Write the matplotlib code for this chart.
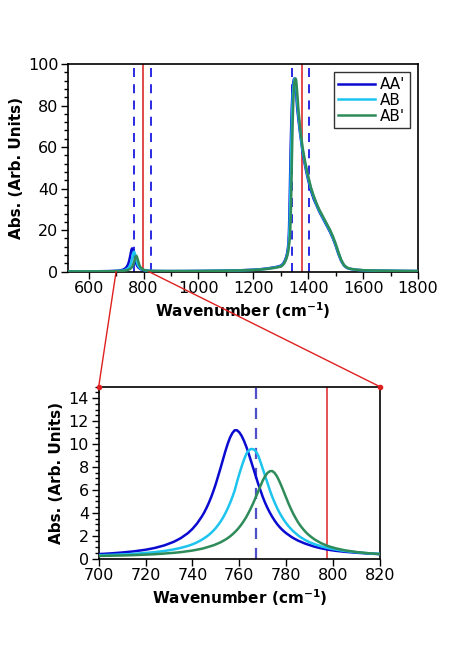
import matplotlib
matplotlib.use("Agg")
import matplotlib.pyplot as plt
from matplotlib.patches import ConnectionPatch
from matplotlib.ticker import MultipleLocator

# ---- data ----
wavenumber = ([525, 550, 575, 600, 625, 650, 675,
               700, 705, 710, 715, 720, 724, 728, 732, 735, 738, 740, 742, 744]
              + list(range(745, 791))
              + [792, 795, 798, 801, 805, 810, 815, 820,
                 830, 840, 860, 880, 900, 950, 1000, 1050, 1100, 1150, 1200, 1225, 1250, 1270, 1280, 1290,
                 1300, 1305, 1310, 1315, 1320, 1323, 1326, 1328, 1330, 1332, 1334, 1336, 1338, 1340,
                 1342, 1344, 1346, 1348, 1350, 1352, 1354, 1356, 1358, 1360, 1362, 1365, 1370, 1375,
                 1380, 1390, 1400, 1410, 1420, 1430, 1440, 1450, 1460, 1470, 1480, 1490, 1500, 1510,
                 1520, 1530, 1540, 1550, 1575, 1600, 1650, 1700, 1750, 1800])

abs_AA = [0.12, 0.13, 0.15, 0.17, 0.20, 0.24, 0.30,
          0.40, 0.46, 0.54, 0.64, 0.78, 0.94, 1.16, 1.47, 1.79, 2.22, 2.60, 3.08, 3.68,
          4.03, 4.43, 4.88, 5.38, 5.94, 6.55, 7.22, 7.92, 8.64, 9.35,
          10.0, 10.55, 10.95, 11.2, 11.2, 11.02, 10.7, 10.27, 9.75, 9.15,
          8.5, 7.85, 7.2, 6.55, 5.95, 5.38, 4.87, 4.42, 4.02, 3.66,
          3.34, 3.05, 2.8, 2.58, 2.39, 2.22, 2.07, 1.93, 1.8, 1.69,
          1.58, 1.49, 1.4, 1.32, 1.25, 1.17,
          1.05, 0.90, 0.78, 0.69, 0.60, 0.52, 0.45, 0.40,
          0.36, 0.33, 0.30, 0.30, 0.30, 0.32, 0.36, 0.42, 0.52, 0.68, 0.95, 1.2, 1.55, 1.95, 2.2, 2.5,
          2.9, 3.4, 4.2, 5.4, 7.2, 8.8, 11.3, 14, 20, 31, 45, 59, 70, 78.5,
          84.5, 88.8, 91.5, 92.8, 93, 92.3, 90, 86.5, 82, 78.5, 76, 72.5, 67, 62,
          57, 50, 44, 39, 35, 32, 29, 26.5, 24, 21.5, 19, 16, 12.5, 8.5,
          5.2, 3.0, 1.9, 1.4, 0.9, 0.7, 0.5, 0.4, 0.35, 0.3]

abs_AB = [0.10, 0.11, 0.12, 0.14, 0.16, 0.19, 0.24,
          0.30, 0.33, 0.37, 0.42, 0.50, 0.57, 0.67, 0.81, 0.94, 1.11, 1.25, 1.43, 1.65,
          1.78, 1.92, 2.08, 2.26, 2.46, 2.69, 2.95, 3.24, 3.57, 3.95,
          4.37, 4.84, 5.36, 5.94, 6.7, 7.4, 8.05, 8.65, 9.15, 9.45,
          9.57, 9.55, 9.37, 9.02, 8.45, 7.85, 7.22, 6.6, 5.98, 5.42,
          4.92, 4.47, 4.06, 3.7, 3.38, 3.09, 2.83, 2.6, 2.39, 2.21,
          2.04, 1.89, 1.76, 1.64, 1.53, 1.43,
          1.27, 1.07, 0.92, 0.80, 0.67, 0.56, 0.47, 0.41,
          0.38, 0.35, 0.32, 0.30, 0.29, 0.30, 0.34, 0.40, 0.50, 0.64, 0.88, 1.1, 1.42, 1.8, 2.05, 2.3,
          2.65, 3.1, 3.8, 4.9, 6.5, 7.9, 9.9, 12, 15.5, 21.5, 32, 46, 59, 70,
          78.5, 85, 89, 91.5, 92.8, 93, 92, 89.5, 85.5, 82, 78.5, 74.5, 68.5, 63,
          58, 51, 45, 40, 36, 32.5, 29.5, 27, 24.5, 22, 19.5, 16.5, 13, 9,
          5.5, 3.1, 2.0, 1.45, 0.9, 0.7, 0.5, 0.4, 0.35, 0.3]

abs_ABp = [0.08, 0.09, 0.10, 0.11, 0.13, 0.15, 0.19,
           0.24, 0.26, 0.28, 0.31, 0.35, 0.39, 0.45, 0.51, 0.57, 0.65, 0.71, 0.79, 0.87,
           0.92, 0.98, 1.03, 1.10, 1.17, 1.25, 1.34, 1.43, 1.54, 1.66,
           1.79, 1.94, 2.11, 2.30, 2.51, 2.75, 3.02, 3.32, 3.65, 4.03,
           4.44, 4.88, 5.36, 5.85, 6.33, 6.82, 7.2, 7.48, 7.63, 7.65,
           7.49, 7.2, 6.79, 6.32, 5.81, 5.29, 4.80, 4.34, 3.92, 3.54,
           3.19, 2.89, 2.63, 2.39, 2.18, 2.0,
           1.69, 1.34, 1.09, 0.91, 0.73, 0.58, 0.48, 0.40,
           0.35, 0.32, 0.29, 0.28, 0.28, 0.29, 0.32, 0.38, 0.47, 0.60, 0.82, 1.02, 1.32, 1.68, 1.9, 2.15,
           2.45, 2.9, 3.6, 4.6, 6.1, 7.3, 8.9, 10.5, 12.5, 14.8, 18.5, 25, 36, 51,
           64, 75, 83, 88.5, 91.5, 92.8, 93, 92.3, 89.5, 86, 82, 77, 70, 64.5,
           59.5, 52, 46, 40.5, 36.5, 33, 30, 27.5, 25, 22.5, 20, 17, 13.5, 9.5,
           5.8, 3.3, 2.1, 1.5, 0.95, 0.72, 0.52, 0.42, 0.36, 0.32]

series_names = ["AA'", "AB", "AB'"]
series_colors = ["#0a0ad0", "#1cc4ee", "#2e8b5a"]

dashed_top = [767, 826, 1340, 1404]
solid_top = [797.5, 1378]
dashed_bottom = [767]
solid_bottom = [797.5]

zoom_range = [700, 820]

# ---- figure ----
fig = plt.figure(figsize=(4.74, 6.64), dpi=100)
ax1 = fig.add_axes([0.1435, 0.5908, 0.7384, 0.3128])
ax2 = fig.add_axes([0.2082, 0.1586, 0.5935, 0.2590])

series = [abs_AA, abs_AB, abs_ABp]
for ys, name, c in zip(series, series_names, series_colors):
    ax1.plot(wavenumber, ys, color=c, lw=1.8, label=name, zorder=3)
    ax2.plot(wavenumber, ys, color=c, lw=1.8, zorder=3)

for x in dashed_top:
    ax1.axvline(x, color="#1a1ae0", lw=1.3, ls=(0, (5, 4)), zorder=2)
for x in solid_top:
    ax1.axvline(x, color="#dd3b3b", lw=1.3, zorder=2)
for x in dashed_bottom:
    ax2.axvline(x, color="#5050c8", lw=1.6, ls=(0, (5, 4)), zorder=2)
for x in solid_bottom:
    ax2.axvline(x, color="#e03535", lw=1.2, zorder=2)

ax1.set_xlim(525, 1800)
ax1.set_ylim(0, 100)
ax1.xaxis.set_major_locator(MultipleLocator(200))
ax1.xaxis.set_minor_locator(MultipleLocator(100))
ax1.yaxis.set_major_locator(MultipleLocator(20))
ax1.yaxis.set_minor_locator(MultipleLocator(4))

ax2.set_xlim(*zoom_range)
ax2.set_ylim(0, 15)
ax2.xaxis.set_major_locator(MultipleLocator(20))
ax2.yaxis.set_major_locator(MultipleLocator(2))
ax2.yaxis.set_minor_locator(MultipleLocator(0.5))

for ax in (ax1, ax2):
    ax.tick_params(which="major", direction="out", length=5, width=1, labelsize=11.5,
                   top=False, right=False, pad=2)
    ax.tick_params(which="minor", direction="out", length=3, width=1, top=False, right=False)
    for s in ax.spines.values():
        s.set_linewidth(1.2)
    ax.set_xlabel(r"Wavenumber (cm$^{\mathbf{-1}}$)", fontsize=11, fontweight="bold", labelpad=3)
    ax.set_ylabel("Abs. (Arb. Units)", fontsize=11, fontweight="bold", labelpad=3)

leg = ax1.legend(loc="upper right", fontsize=11, frameon=True, fancybox=False,
                 handlelength=2.4, handletextpad=0.3, borderpad=0.3, labelspacing=0.05,
                 borderaxespad=0.55)
leg.get_frame().set_edgecolor("black")
leg.get_frame().set_linewidth(1.0)

# connection lines from the zoom region to the inset
for xa, xb in [(zoom_range[0], 0), (zoom_range[1], 1)]:
    con = ConnectionPatch(xyA=(xa, 0), coordsA=ax1.transData,
                          xyB=(xb, 1), coordsB=ax2.transAxes,
                          color="#e02020", lw=1.0)
    fig.add_artist(con)
ax2.plot([0, 1], [1, 1], "o", color="#e02020", ms=3, transform=ax2.transAxes,
         clip_on=False, zorder=5)

fig.savefig("out.png", dpi=100)
